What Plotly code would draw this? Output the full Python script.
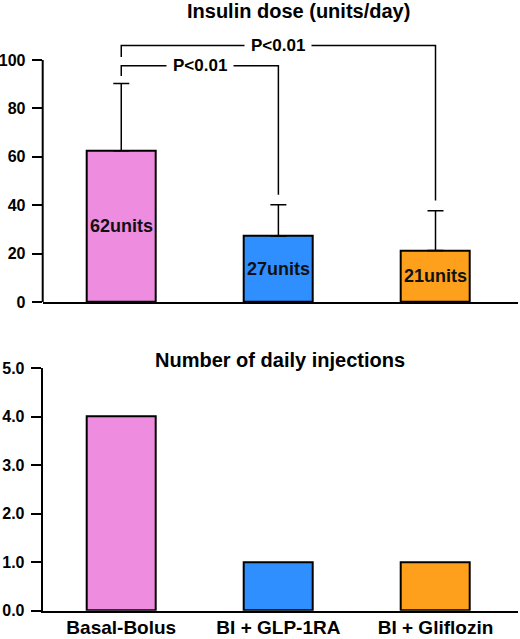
import plotly.graph_objects as go

# data
categories = ["Basal-Bolus", "BI + GLP-1RA", "BI + Gliflozin"]
colors = ["#EE8CE0", "#2F8FFF", "#FFA01C"]
insulin_dose = [62.5, 27.3, 21.3]
insulin_sd = [27.8, 12.9, 16.4]
dose_labels = ["62units", "27units", "21units"]
injections = [4.0, 1.0, 1.0]
comparisons = [(0, 1), (0, 2)]
p_labels = ["P<0.01", "P<0.01"]

FONT = "Liberation Sans, Arial, sans-serif"
W, H = 520, 639
xpos = list(range(len(categories)))

fig = go.Figure()

fig.add_trace(go.Bar(
    x=xpos, y=insulin_dose, width=0.44,
    marker=dict(color=colors, line=dict(color="black", width=2)),
    error_y=dict(type="data", array=insulin_sd, arrayminus=[0] * len(insulin_sd),
                 symmetric=False, color="black", thickness=1.5, width=8),
    xaxis="x", yaxis="y", showlegend=False, hoverinfo="skip",
))
fig.add_trace(go.Bar(
    x=xpos, y=injections, width=0.44,
    marker=dict(color=colors, line=dict(color="black", width=2)),
    xaxis="x2", yaxis="y2", showlegend=False, hoverinfo="skip",
))

# labels inside the dose bars
for i, (v, lab) in enumerate(zip(insulin_dose, dose_labels)):
    fig.add_annotation(x=i, y=v / 2, xref="x", yref="y", text=lab, showarrow=False,
                       font=dict(family=FONT, size=18, color="#111111", weight="bold"))

# significance brackets
bracket_y = [97.6, 106.0]
left_leg = [93.4, 101.2]
right_leg = [44.3, 41.9]
for k, ((a, b), p) in enumerate(zip(comparisons, p_labels)):
    fig.add_shape(type="path", xref="x", yref="y",
                  path=f"M {a},{left_leg[k]} V {bracket_y[k]} H {b} V {right_leg[k]}",
                  line=dict(color="black", width=1.5))
    fig.add_annotation(x=(a + b) / 2, y=bracket_y[k], xref="x", yref="y", text=p,
                       showarrow=False, bgcolor="white", borderpad=6,
                       font=dict(family=FONT, size=17, color="black", weight="bold"))

# y axis line of the top panel (stops at 100)
x_dom = [42.7 / W, 518 / W]
fig.add_shape(type="line", xref="paper", yref="y", x0=x_dom[0], x1=x_dom[0], y0=0, y1=100,
              line=dict(color="black", width=2))

# panel titles
fig.add_annotation(x=298 / W, y=1 - 11 / H, xref="paper", yref="paper",
                   text="Insulin dose (units/day)", showarrow=False, yanchor="middle",
                   font=dict(family=FONT, size=20, color="black", weight="bold"))
fig.add_annotation(x=280 / W, y=1 - 360 / H, xref="paper", yref="paper",
                   text="Number of daily injections", showarrow=False, yanchor="middle",
                   font=dict(family=FONT, size=20, color="black", weight="bold"))

tickfont = dict(family=FONT, size=16, color="black", weight="bold")
xcommon = dict(domain=x_dom, range=[-0.5, 2.525], showline=True, linecolor="black",
               linewidth=2, showgrid=False, zeroline=False, ticks="", automargin=False)

fig.update_layout(
    width=W, height=H,
    margin=dict(l=0, r=0, t=0, b=0, pad=0),
    plot_bgcolor="white", paper_bgcolor="white",
    bargap=0,
    xaxis=dict(**xcommon, anchor="y", showticklabels=False),
    yaxis=dict(domain=[1 - 302 / H, 1 - 35.8 / H], range=[0, 110], anchor="x",
               tickvals=[0, 20, 40, 60, 80, 100], ticks="outside", ticklen=10,
               tickwidth=2, tickcolor="black", tickfont=tickfont, ticklabelstandoff=3,
               showline=False, showgrid=False, zeroline=False, automargin=False),
    xaxis2=dict(**xcommon, anchor="y2", tickvals=xpos, ticktext=categories,
                ticklabelstandoff=-2,
                tickfont=dict(family=FONT, size=19, color="black", weight="bold")),
    yaxis2=dict(domain=[1 - 610.7 / H, 1 - 368.3 / H], range=[0, 5], anchor="x2",
                tickvals=[0, 1, 2, 3, 4, 5], tickformat=".1f", ticks="outside",
                ticklen=10, tickwidth=2, tickcolor="black", tickfont=tickfont,
                ticklabelstandoff=3, showline=True, linecolor="black", linewidth=2,
                showgrid=False, zeroline=False, automargin=False),
)

fig.write_html("out.html", config={"displayModeBar": False},
               post_script="document.body.style.margin='0';document.body.style.overflow='hidden';")
